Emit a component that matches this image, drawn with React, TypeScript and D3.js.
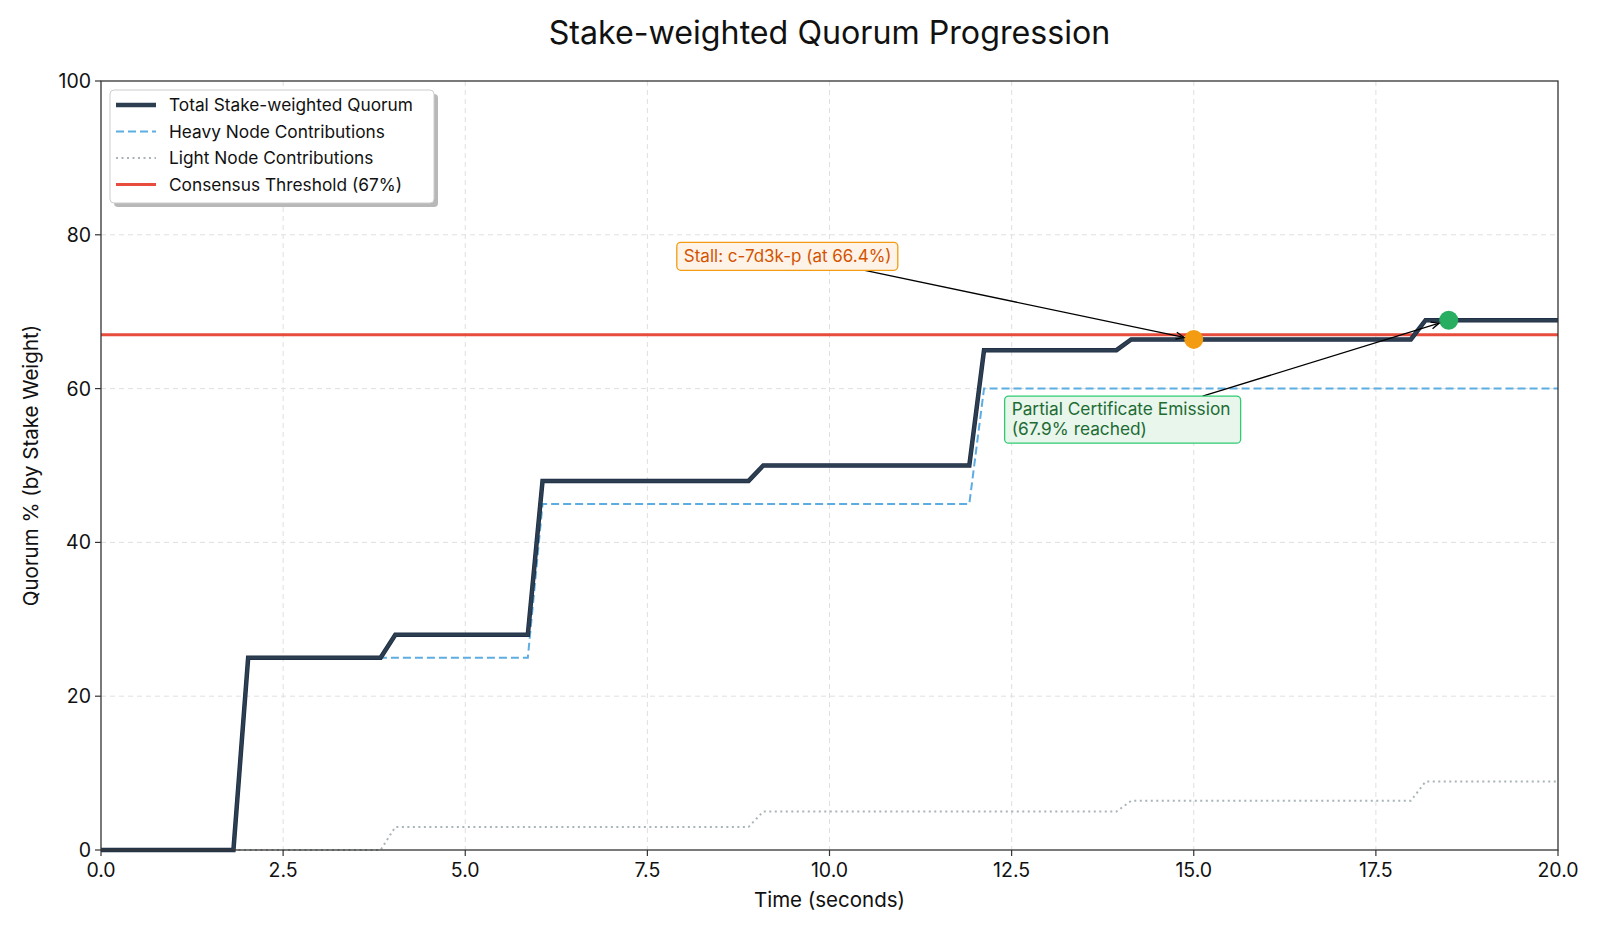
import React from "react";
import * as d3 from "d3";

// ---- data ----
const times = [0, 1.818, 2.02, 3.838, 4.04, 5.859, 6.061, 8.889, 9.091, 11.919, 12.121, 13.939, 14.141, 17.98, 18.182, 20];
const totalQuorum = [0, 0, 25, 25, 28, 28, 48, 48, 50, 50, 65, 65, 66.4, 66.4, 68.9, 68.9];
const heavyNodes = [0, 0, 25, 25, 25, 25, 45, 45, 45, 45, 60, 60, 60, 60, 60, 60];
const lightNodes = [0, 0, 0, 0, 3, 3, 3, 3, 5, 5, 5, 5, 6.4, 6.4, 8.9, 8.9];
const threshold = 67;
const xTicks = [0, 2.5, 5, 7.5, 10, 12.5, 15, 17.5, 20];
const yTicks = [0, 20, 40, 60, 80, 100];
const stallPoint = { t: 15, q: 66.4, label: "Stall: c-7d3k-p (at 66.4%)", tx: 8.0, ty: 77.2 };
const certPoint = { t: 18.5, q: 68.9, lines: ["Partial Certificate Emission", "(67.9% reached)"], tx: 12.5, ty: 55.9 };
const legendItems = [
  "Total Stake-weighted Quorum",
  "Heavy Node Contributions",
  "Light Node Contributions",
  "Consensus Threshold (67%)",
];

const W = 1600, H = 933;
const M = { left: 101, right: 1558, top: 81, bottom: 850 };
const FONT = "Inter, 'Noto Sans', sans-serif";

function arrowHead(x1: number, y1: number, x2: number, y2: number, len = 8, wid = 3.5) {
  const a = Math.atan2(y2 - y1, x2 - x1);
  const bx = x2 - len * Math.cos(a), by = y2 - len * Math.sin(a);
  const px = -Math.sin(a) * wid, py = Math.cos(a) * wid;
  return `M${bx + px},${by + py}L${x2},${y2}L${bx - px},${by - py}`;
}

export default function App() {
  const x = d3.scaleLinear().domain([0, 20]).range([M.left, M.right]);
  const y = d3.scaleLinear().domain([0, 100]).range([M.bottom, M.top]);
  const line = (vals: number[]) =>
    d3.line<number>().x((_, i) => x(times[i])).y((v) => y(v))(vals) || "";

  const sx = x(stallPoint.t), sy = y(stallPoint.q);
  const stTextX = x(stallPoint.tx), stTextY = y(stallPoint.ty);
  const stBox = { x: stTextX - 7, y: stTextY - 14, w: 221, h: 28 };
  const stFrom = { x: stBox.x + 188, y: stBox.y + stBox.h };
  const stAng = Math.atan2(sy - stFrom.y, sx - stFrom.x);
  const stTo = { x: sx - 10 * Math.cos(stAng), y: sy - 10 * Math.sin(stAng) };

  const cx = x(certPoint.t), cy = y(certPoint.q);
  const ceTextX = x(certPoint.tx), ceTextY = y(certPoint.ty);
  const ceBox = { x: ceTextX - 7, y: ceTextY - 24, w: 236, h: 47 };
  const ceFrom = { x: ceBox.x + 198, y: ceBox.y };
  const ceAng = Math.atan2(cy - ceFrom.y, cx - ceFrom.x);
  const ceTo = { x: cx - 10 * Math.cos(ceAng), y: cy - 10 * Math.sin(ceAng) };

  const legX = 110, legY = 90, legW = 324, legH = 113;

  return (
    <svg width={W} height={H} style={{ position: "absolute", left: 0, top: 0, background: "#fff" }} fontFamily={FONT}>
      <rect x={0} y={0} width={W} height={H} fill="#fff" />
      <text x={(M.left + M.right) / 2} y={44} textAnchor="middle" fontSize={32.2} fill="#111">
        Stake-weighted Quorum Progression
      </text>
      <g stroke="#d9d9d9" strokeWidth={1} strokeDasharray="5,4" opacity={0.8}>
        {xTicks.slice(1, -1).map((t) => (
          <line key={"gx" + t} x1={x(t)} x2={x(t)} y1={M.top} y2={M.bottom} />
        ))}
        {yTicks.slice(1, -1).map((t) => (
          <line key={"gy" + t} y1={y(t)} y2={y(t)} x1={M.left} x2={M.right} />
        ))}
      </g>
      <line x1={M.left} x2={M.right} y1={y(threshold)} y2={y(threshold)} stroke="#e74c3c" strokeWidth={3} />
      <path d={line(lightNodes)} fill="none" stroke="#a9b4b8" strokeWidth={2} strokeDasharray="2,3.5" />
      <path d={line(heavyNodes)} fill="none" stroke="#5dade2" strokeWidth={2} strokeDasharray="8,4" />
      <path d={line(totalQuorum)} fill="none" stroke="#1d2d44" strokeWidth={4.5} strokeLinejoin="miter" />
      <path d={line(totalQuorum)} fill="none" stroke="#2c3e50" strokeWidth={3} strokeLinejoin="miter" />
      <circle cx={sx} cy={sy} r={9.5} fill="#f39c12" />
      <circle cx={cx} cy={cy} r={9.5} fill="#27ae60" />
      <g stroke="#000" strokeWidth={1.3} fill="none">
        <line x1={stFrom.x} y1={stFrom.y} x2={stTo.x} y2={stTo.y} />
        <path d={arrowHead(stFrom.x, stFrom.y, stTo.x, stTo.y)} />
        <line x1={ceFrom.x} y1={ceFrom.y} x2={ceTo.x} y2={ceTo.y} />
        <path d={arrowHead(ceFrom.x, ceFrom.y, ceTo.x, ceTo.y)} />
      </g>
      <rect x={stBox.x} y={stBox.y} width={stBox.w} height={stBox.h} rx={4} fill="#fef3e8" stroke="#f39c12" strokeWidth={1.3} />
      <text x={stTextX} y={stTextY + 6} fontSize={17} fill="#d35400">{stallPoint.label}</text>
      <rect x={ceBox.x} y={ceBox.y} width={ceBox.w} height={ceBox.h} rx={4} fill="#e8f6ec" stroke="#2ecc71" strokeWidth={1.3} />
      {certPoint.lines.map((l, i) => (
        <text key={l} x={ceTextX} y={ceTextY - 5 + i * 19.5} fontSize={17.3} fill="#1e6b34">{l}</text>
      ))}
      <rect x={M.left} y={M.top} width={M.right - M.left} height={M.bottom - M.top} fill="none" stroke="#333" strokeWidth={1.3} />
      <g fontSize={19.5} fill="#111">
        {xTicks.map((t) => (
          <g key={"xt" + t}>
            <line x1={x(t)} x2={x(t)} y1={M.bottom} y2={M.bottom + 6} stroke="#333" strokeWidth={1.2} />
            <text x={x(t)} y={M.bottom + 27} textAnchor="middle">{t.toFixed(1)}</text>
          </g>
        ))}
        {yTicks.map((t) => (
          <g key={"yt" + t}>
            <line x1={M.left - 6} x2={M.left} y1={y(t)} y2={y(t)} stroke="#333" strokeWidth={1.2} />
            <text x={M.left - 10} y={y(t) + 7} textAnchor="end">{t}</text>
          </g>
        ))}
      </g>
      <text x={(M.left + M.right) / 2} y={907} textAnchor="middle" fontSize={20.5} fill="#111">Time (seconds)</text>
      <text transform={`translate(38,${(M.top + M.bottom) / 2}) rotate(-90)`} textAnchor="middle" fontSize={20.5} fill="#111">
        Quorum % (by Stake Weight)
      </text>
      <rect x={legX + 4} y={legY + 4} width={legW} height={legH} rx={4} fill="#888" opacity={0.6} />
      <rect x={legX} y={legY} width={legW} height={legH} rx={4} fill="#fff" stroke="#ccc" strokeWidth={1} />
      {legendItems.map((name, i) => {
        const ly = legY + 15 + i * 26.5;
        const styles = [
          { stroke: "#2c3e50", w: 4.5, dash: undefined },
          { stroke: "#5dade2", w: 2, dash: "8,4" },
          { stroke: "#a9b4b8", w: 2, dash: "2,3.5" },
          { stroke: "#e74c3c", w: 3, dash: undefined },
        ][i];
        return (
          <g key={name}>
            <line x1={legX + 6} x2={legX + 46} y1={ly} y2={ly} stroke={styles.stroke} strokeWidth={styles.w} strokeDasharray={styles.dash} />
            <text x={legX + 59} y={ly + 6} fontSize={17.3} fill="#111">{name}</text>
          </g>
        );
      })}
    </svg>
  );
}
